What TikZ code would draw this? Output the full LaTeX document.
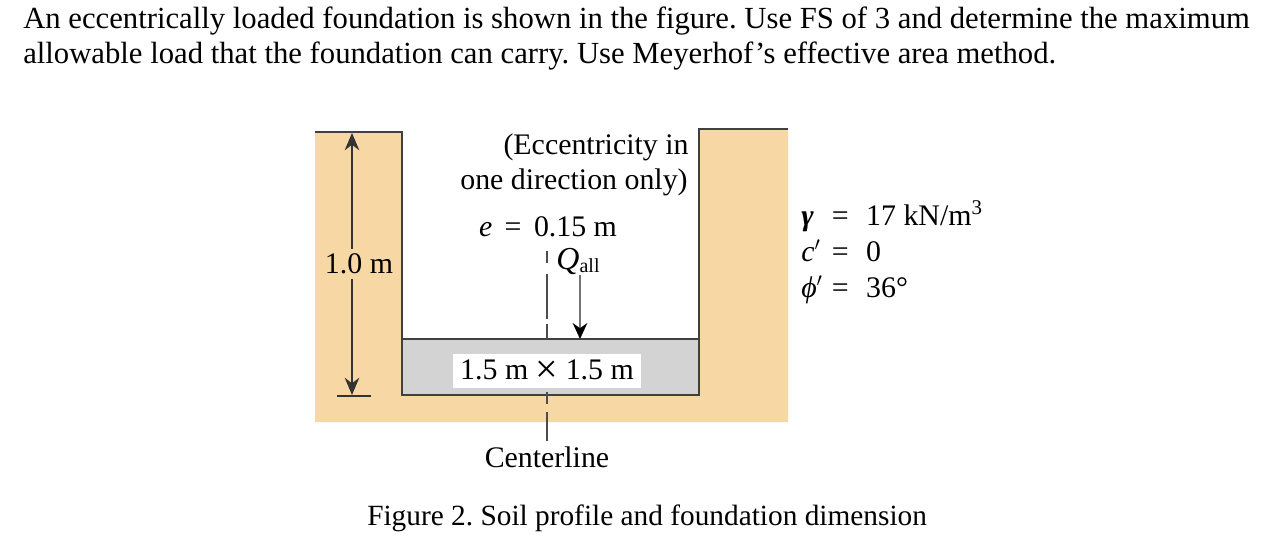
\documentclass[tikz,border=0pt]{standalone}
\usepackage{fontspec}
\setmainfont{Liberation Serif}
\usepackage{xcolor}
\usetikzlibrary{positioning, arrows.meta}
\definecolor{soilcolor}{HTML}{F7D8A5}
\definecolor{footingcolor}{HTML}{D3D3D3}
\newcommand{\symbolbox}[1]{\makebox[23pt][l]{\raisebox{0pt}[\height][0pt]{#1}}}
\frenchspacing

\begin{document}
\begin{tikzpicture}[
    x=0.75pt, y=-0.75pt,
    titletext/.style={inner sep=0pt, anchor=base west, font=\fontsize{23.02}{26}\selectfont},
    figtext/.style={inner sep=0pt, font=\fontsize{22.4}{24}\selectfont},
    soiltext/.style={figtext, anchor=base west, font=\fontsize{22.4}{24}\selectfont},
    walline/.style={draw=black!75, line width=1pt},
    dimline/.style={black!80, line width=0.8pt, {Stealth[length=13pt,width=11pt]}-{Stealth[length=13pt,width=11pt]}},
    loadline/.style={black!55, line width=1.4pt, -{Stealth[length=12pt,width=11pt,color=black]}},
    centerline/.style={black!70, line width=0.8pt, dash pattern=on 9pt off 8pt on 34pt off 4pt on 11pt off 40pt on 9pt off 6pt on 13pt off 0pt},
    ]
    \useasboundingbox (0,0) rectangle (1274,556);
    %Soil and footing
    \fill[soilcolor] (315,132) -- (402,132) -- (402,395) -- (699,395) -- (699,129) -- (788,129) -- (788,422) -- (315,422) -- cycle;
    \fill[footingcolor] (402,339) rectangle (699,395);
    \draw[walline] (315,132) -- (402,132) -- (402,395) -- (699,395) -- (699,129) -- (788,129);
    \draw[walline] (402,339) -- (699,339);

    %Coordinates
    \coordinate (dimtop) at (352,133);
    \coordinate (dimbot) at (352,395);
    \coordinate (ticka) at (337,396);
    \coordinate (tickb) at (371,396);
    \coordinate (cltop) at (547,251);
    \coordinate (clbot) at (547,441);
    \coordinate (loadtop) at (580,275);
    \coordinate (loadbot) at (580,339);

    %Connectors under the labels
    \draw[centerline] (cltop)--(clbot);
    \draw[dimline] (dimtop)--(dimbot);
    \draw[black!80, line width=0.8pt] (ticka)--(tickb);
    \draw[loadline] (loadtop)--(loadbot);

    %Nodes
    \node[titletext] (line1) at (23,29) {An eccentrically loaded foundation is shown in the figure. Use FS of 3 and determine the maximum};
    \node[titletext] (line2) at (23,64) {allowable load that the foundation can carry. Use Meyerhof’s effective area method.};
    \node[figtext] (ecc1) at (596,147) {(Eccentricity in};
    \node[figtext] (ecc2) at (574,182) {one direction only)};
    \node[figtext] (ecc) at (548,227) {\textit{e} \,=\, 0.15 m};
    \node[figtext] (qall) at (578,261) {\fontsize{24}{24}\selectfont\textit{Q}\raisebox{-0.25ex}{\fontsize{15}{15}\selectfont all}};
    \node[figtext, fill=soilcolor, inner xsep=1pt, inner ysep=4pt] (height) at (359,264) {1.0 m};
    \node[figtext, fill=white, minimum width=141pt, minimum height=25pt] (size) at (547,371) {1.5 m \raisebox{-0.08em}{\fontsize{30}{30}\selectfont ×} 1.5 m};
    \node[figtext] (center) [below=24pt of clbot, yshift=20pt] {Centerline};
    \node[soiltext] (gamma) at (801,225) {\symbolbox{\textbf{\textit{γ}}}=\,\, 17 kN/m\textsuperscript{3}};
    \node[soiltext] (cohesion) [below=0pt of gamma.base west, anchor=base west, yshift=-27pt] {\symbolbox{\textit{c}$'$}=\,\, 0};
    \node[soiltext] (friction) [below=0pt of cohesion.base west, anchor=base west, yshift=-27pt] {\symbolbox{\textit{ϕ}$'$}=\,\, 36°};
    \node[titletext, font=\fontsize{22}{26}\selectfont] (caption) at (367,525) {Figure 2. Soil profile and foundation dimension};
\end{tikzpicture}
\end{document}
